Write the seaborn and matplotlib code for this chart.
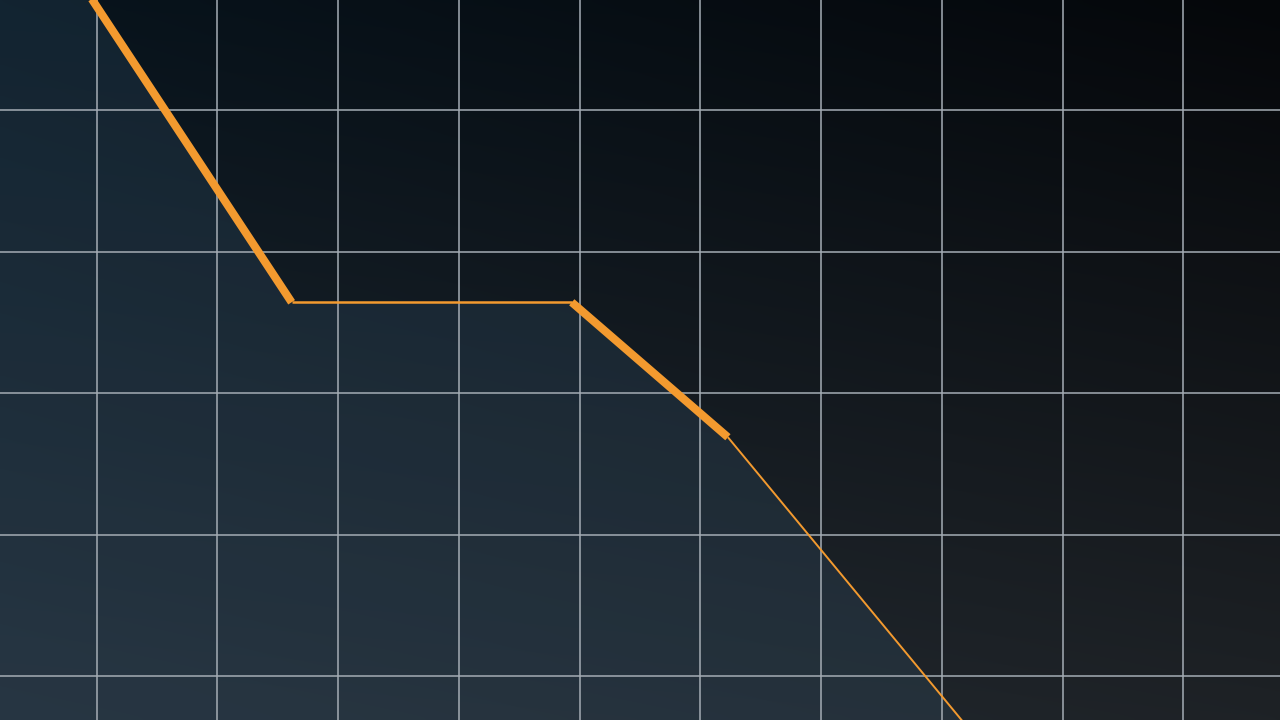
import numpy as np
import matplotlib.pyplot as plt
import seaborn as sns

# line vertices (grid units: one cell = 1 step)
x_vals = [-0.05, 1.615, 3.935, 5.228, 7.25]
y_vals = [4.80, 2.643, 2.643, 1.689, -0.40]

# grid positions
x_grid = [0, 1, 2, 3, 4, 5, 6, 7, 8, 9]
y_grid = [0, 1, 2, 3, 4]

# style
seg_widths = [5.8, 1.8, 5.8, 1.4]
line_color = "#f39a2f"
grid_color = "#a4acb4"
x_lim = (-0.80, 9.80)
y_lim = (-0.31, 4.78)

sns.set_theme(style="dark")

fig = plt.figure(figsize=(12.8, 7.2), dpi=100)
ax = fig.add_axes([0, 0, 1, 1])

# background gradient (bilinear between corner colours)
def hex_rgb(h):
    h = h.lstrip("#")
    return np.array([int(h[i:i + 2], 16) / 255 for i in (0, 2, 4)])

tl, tr = hex_rgb("#08141d"), hex_rgb("#05070a")
bl, br = hex_rgb("#222b34"), hex_rgb("#1e2226")
u = np.linspace(0, 1, 256)[None, :, None]
v = np.linspace(0, 1, 144)[:, None, None]
top = tl * (1 - u) + tr * u
bot = bl * (1 - u) + br * u
bg = top * (1 - v) + bot * v
ax.imshow(bg, extent=[x_lim[0], x_lim[1], y_lim[0], y_lim[1]],
          origin="upper", aspect="auto", zorder=0, interpolation="bicubic")

# lighter tint below/left of the line
poly_x = [x_lim[0] - 1] + x_vals + [x_vals[-1], x_lim[0] - 1]
poly_y = [y_vals[0]] + y_vals + [y_lim[0] - 1, y_lim[0] - 1]
ax.fill(poly_x, poly_y, color="#3f6582", alpha=0.2, lw=0, zorder=1)

for gx in x_grid:
    ax.axvline(gx, color=grid_color, lw=1.3, alpha=0.85, zorder=2)
for gy in y_grid:
    ax.axhline(gy, color=grid_color, lw=1.3, alpha=0.85, zorder=2)

for i, w in enumerate(seg_widths):
    sns.lineplot(x=x_vals[i:i + 2], y=y_vals[i:i + 2], ax=ax, color=line_color,
                 linewidth=w, sort=False, zorder=3, solid_capstyle="butt")

ax.set_xlim(*x_lim)
ax.set_ylim(*y_lim)
ax.set_xticks([])
ax.set_yticks([])
ax.grid(False)
for s in ax.spines.values():
    s.set_visible(False)

fig.savefig("out.png", dpi=100)
